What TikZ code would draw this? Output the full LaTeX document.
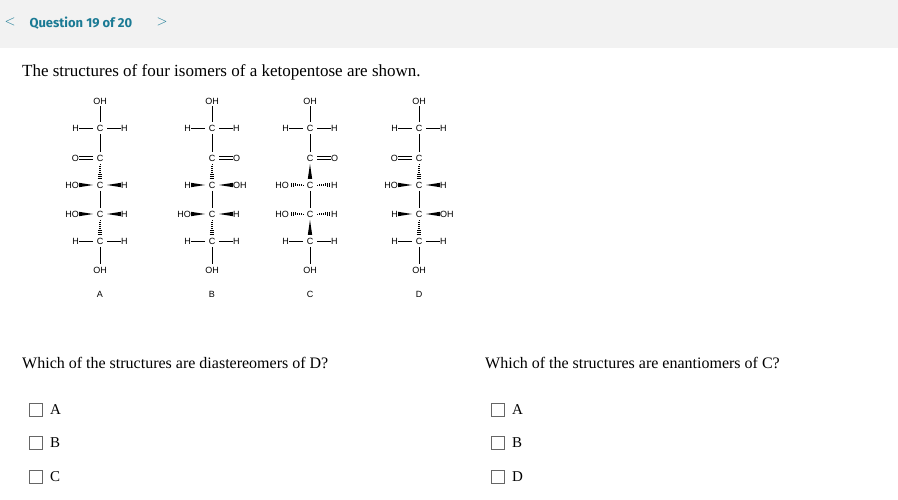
\documentclass[tikz,border=0pt]{standalone}
\usepackage{fontspec}
\setmainfont{Liberation Serif}
\newfontfamily\arial{Liberation Sans}
\newfontfamily\fira{Fira Sans}
\definecolor{teal1}{HTML}{1A7A94}
\begin{document}
\begin{tikzpicture}[x=1pt,y=-1pt,
  lab/.style={font=\arial\fontsize{9}{9}\selectfont,inner sep=0pt},
  q/.style={font=\fontsize{16}{16}\selectfont,anchor=west,inner sep=0pt},
  box/.style={draw=black!60,line width=0.8pt,minimum size=13pt,inner sep=0pt},
  opt/.style={font=\fontsize{15}{15}\selectfont,anchor=west,inner sep=0pt}]
\useasboundingbox (0,0) rectangle (898,500);
\fill[black!5] (0,0) rectangle (898,48);
\node[font=\fira\fontsize{13}{13}\selectfont\bfseries,text=teal1,anchor=west] (hd) at (26,23) {Question 19 of 20};
\node[font=\fira\fontsize{15}{15}\selectfont,text=teal1] (lt) at (10,22) {$<$};
\node[font=\fira\fontsize{15}{15}\selectfont,text=teal1] (gt) at (162,22) {$>$};
\node[q,font=\fontsize{17}{17}\selectfont] (t) at (22,72) {The structures of four isomers of a ketopentose are shown.};
% bond macros
\newcommand\mhb[4]{\ifcase#4
 \draw[line width=0.6pt] ({#1+#3*7},#2)--({#1+#3*21},#2);
 \or \fill ({#1+#3*7},#2)--({#1+#3*21},#2-2.2)--({#1+#3*21},#2+2.2)--cycle;
 \or \foreach \i in {0,...,6}{\draw[line width=0.4pt] ({#1+#3*(7+2*\i)},{#2-0.3-0.3*\i})--++(0,{0.6+0.6*\i});}
 \fi}
\newcommand\mvb[4]{\ifcase#4
 \draw[line width=0.6pt] (#1,#2+6)--(#1,#3-6);
 \or \fill (#1,#2+6)--(#1-2.2,#3-6)--(#1+2.2,#3-6)--cycle;
 \or \foreach \i in {0,...,7}{\draw[line width=0.4pt] ({#1-0.3-0.28*\i},{#2+6+2*\i})--++({0.6+0.56*\i},0);}
 \fi}
\newcommand\msub[4]{\ifnum#3<0 \node[lab,anchor=east] at ({#1-21},#2) {#4};\else\node[lab,anchor=west] at ({#1+21},#2) {#4};\fi}
\newcommand\molframe[3]{%
 \node[lab] at (#1,101) {OH}; \draw[line width=0.6pt] (#1,106)--(#1,122);
 \node[lab] at (#1,128) {C}; \mhb{#1}{128}{-1}{0}\mhb{#1}{128}{1}{0}\msub{#1}{128}{-1}{H}\msub{#1}{128}{1}{H}
 \mvb{#1}{128}{158}{0}
 \node[lab] at (#1,158) {C};
 \draw[line width=0.6pt] ({#1+#3*7},156.5)--({#1+#3*21},156.5) ({#1+#3*7},159.5)--({#1+#3*21},159.5);
 \msub{#1}{158}{#3}{O}
 \foreach \yy in {185,214}{\node[lab] at (#1,\yy) {C};}
 \mvb{#1}{185}{214}{0}
 \node[lab] at (#1,241) {C}; \mhb{#1}{241}{-1}{0}\mhb{#1}{241}{1}{0}\msub{#1}{241}{-1}{H}\msub{#1}{241}{1}{H}
 \draw[line width=0.6pt] (#1,247)--(#1,264); \node[lab] at (#1,270) {OH};
 \node[lab] at (#1,294) {#2};}
\newcommand\molrow[5]{\mhb{#1}{#2}{-1}{#5}\mhb{#1}{#2}{1}{#5}\msub{#1}{#2}{-1}{#3}\msub{#1}{#2}{1}{#4}}
% A
\molframe{100}{A}{-1}\mvb{100}{158}{185}{2}\mvb{100}{214}{241}{2}
\molrow{100}{185}{HO}{H}{1}\molrow{100}{214}{HO}{H}{1}
% B
\molframe{212}{B}{1}\mvb{212}{158}{185}{2}\mvb{212}{214}{241}{2}
\molrow{212}{185}{H}{OH}{1}\molrow{212}{214}{HO}{H}{1}
% C
\molframe{310}{C}{1}\mvb{310}{158}{185}{1}\mvb{310}{214}{241}{1}
\molrow{310}{185}{HO}{H}{2}\molrow{310}{214}{HO}{H}{2}
% D
\molframe{419}{D}{-1}\mvb{419}{158}{185}{2}\mvb{419}{214}{241}{2}
\molrow{419}{185}{HO}{H}{1}\molrow{419}{214}{H}{OH}{1}
% questions
\node[q] (q1) at (22,363) {Which of the structures are diastereomers of D?};
\node[q] (q2) at (485,363) {Which of the structures are enantiomers of C?};
\foreach \y/\l [count=\i] in {410/A,443/B,477/C}{\node[box] (la\i) at (36,\y) {}; \node[opt] at (50,\y) {\l};}
\foreach \y/\l [count=\i] in {410/A,443/B,477/D}{\node[box] (ra\i) at (498,\y) {}; \node[opt] at (512,\y) {\l};}
\end{tikzpicture}
\end{document}
